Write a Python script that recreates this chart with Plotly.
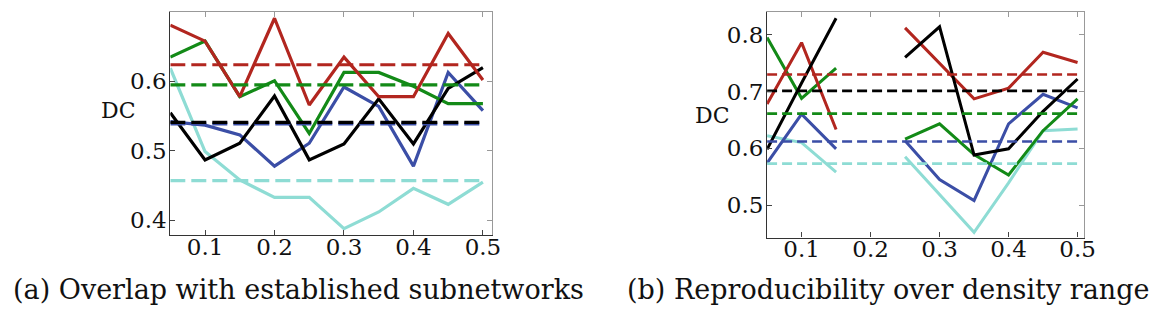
import plotly.graph_objects as go

# ---------------- data ----------------
x_a = [0.05, 0.10, 0.15, 0.20, 0.25, 0.30, 0.35, 0.40, 0.45, 0.50]
a_red   = [0.681, 0.658, 0.578, 0.691, 0.566, 0.635, 0.578, 0.578, 0.669, 0.602]
a_green = [0.635, 0.658, 0.578, 0.601, 0.525, 0.613, 0.613, 0.593, 0.568, 0.568]
a_black = [0.555, 0.487, 0.511, 0.579, 0.487, 0.510, 0.575, 0.510, 0.590, 0.620]
a_blue  = [0.542, 0.537, 0.523, 0.478, 0.511, 0.592, 0.564, 0.478, 0.613, 0.558]
a_cyan  = [0.619, 0.499, 0.458, 0.433, 0.433, 0.388, 0.412, 0.446, 0.423, 0.455]
a_means = {"red": 0.624, "green": 0.595, "black": 0.541, "blue": 0.539, "cyan": 0.457}

x_b = [0.05, 0.10, 0.15, 0.20, 0.25, 0.30, 0.35, 0.40, 0.45, 0.50]
b_red   = [0.678, 0.786, 0.633, None, 0.812, 0.750, 0.687, 0.706, 0.769, 0.751]
b_green = [0.795, 0.688, 0.741, None, 0.616, 0.643, 0.589, 0.553, 0.631, 0.687]
b_black = [0.598, 0.715, 0.829, None, 0.760, 0.814, 0.588, 0.599, 0.665, 0.722]
b_blue  = [0.574, 0.660, 0.599, None, 0.613, 0.545, 0.508, 0.643, 0.695, 0.671]
b_cyan  = [0.622, 0.610, 0.558, None, 0.585, 0.518, 0.452, 0.539, 0.631, 0.634]
b_means = {"red": 0.730, "black": 0.701, "green": 0.661, "blue": 0.612, "cyan": 0.573}

mean_x = [0.05, 0.50]
x_ticks = [0.1, 0.2, 0.3, 0.4, 0.5]
a_yticks = [0.4, 0.5, 0.6]
b_yticks = [0.5, 0.6, 0.7, 0.8]

captions = ["(a) Overlap with established subnetworks",
            "(b) Reproducibility over density range"]
y_label = "DC"

COL = {"red": "#b2261f", "green": "#138a17", "black": "#000000",
       "blue": "#3b4ea6", "cyan": "#8edcd4"}

FONT = "DejaVu Serif"

fig = go.Figure()

def add_panel(xv, series, means, xa, ya, lw, dlw, dash):
    for name, ys in series:
        fig.add_trace(go.Scatter(x=xv, y=ys, mode="lines", xaxis=xa, yaxis=ya,
                                 line=dict(color=COL[name], width=lw),
                                 connectgaps=False, showlegend=False,
                                 hoverinfo="skip"))
    for name in ["cyan", "blue", "green", "black", "red"]:
        fig.add_trace(go.Scatter(x=mean_x, y=[means[name]] * 2, mode="lines",
                                 xaxis=xa, yaxis=ya,
                                 line=dict(color=COL[name], width=dlw, dash=dash),
                                 showlegend=False, hoverinfo="skip"))

add_panel(x_a, [("cyan", a_cyan), ("blue", a_blue), ("green", a_green),
                ("black", a_black), ("red", a_red)],
          a_means, "x", "y", 3.2, 3.2, "15px,6px")
add_panel(x_b, [("cyan", b_cyan), ("blue", b_blue), ("green", b_green),
                ("red", b_red), ("black", b_black)],
          b_means, "x2", "y2", 3.0, 2.6, "10px,5px")

W, H = 1162, 312
domA_x = [164 / W, 489 / W]
domA_y = [1 - 227 / H, 1 - 4 / H]
domB_x = [767 / W, 1087 / W]
domB_y = [1 - 229.5 / H, 1 - 4 / H]

tickfont = dict(family=FONT, size=23, color="#111")
common = dict(showgrid=False, zeroline=False, ticks="inside", ticklen=5,
              tickcolor="#444", showline=True, linecolor="#333", linewidth=1.2,
              tickfont=tickfont, fixedrange=True)
mirror_common = dict(showgrid=False, zeroline=False, ticks="inside", ticklen=5,
                     tickcolor="#999", showline=True, linecolor="#999",
                     linewidth=1.2, showticklabels=False, fixedrange=True)

xrA = [0.05, 0.513]
yrA = [0.3788, 0.700]
xrB = [0.05, 0.509]
yrB = [0.4428, 0.840]

XSO = -9
YSO = -2

fig.update_layout(
    width=W, height=H,
    margin=dict(l=0, r=0, t=0, b=0),
    paper_bgcolor="white", plot_bgcolor="white",
    xaxis=dict(domain=domA_x, range=xrA, anchor="y", tickvals=x_ticks,
               ticktext=[f"{v:.1f}" for v in x_ticks], ticklabelstandoff=XSO, **common),
    yaxis=dict(domain=domA_y, range=yrA, anchor="x", tickvals=a_yticks,
               ticktext=[f"{v:.1f}" for v in a_yticks], ticklabelstandoff=YSO, **common),
    xaxis2=dict(domain=domB_x, range=xrB, anchor="y2", tickvals=x_ticks,
                ticktext=[f"{v:.1f}" for v in x_ticks], ticklabelstandoff=XSO, **common),
    yaxis2=dict(domain=domB_y, range=yrB, anchor="x2", tickvals=b_yticks,
                ticktext=[f"{v:.1f}" for v in b_yticks], ticklabelstandoff=YSO, **common),
    xaxis3=dict(overlaying="x", side="top", range=xrA, anchor="y3", tickvals=x_ticks, **mirror_common),
    yaxis3=dict(overlaying="y", side="right", range=yrA, anchor="x3", tickvals=a_yticks, **mirror_common),
    xaxis4=dict(overlaying="x2", side="top", range=xrB, anchor="y4", tickvals=x_ticks, **mirror_common),
    yaxis4=dict(overlaying="y2", side="right", range=yrB, anchor="x4", tickvals=b_yticks, **mirror_common),
)

# invisible traces to activate mirror axes
fig.add_trace(go.Scatter(x=[None], y=[None], xaxis="x3", yaxis="y3", showlegend=False, hoverinfo="skip"))
fig.add_trace(go.Scatter(x=[None], y=[None], xaxis="x4", yaxis="y4", showlegend=False, hoverinfo="skip"))

# DC labels
fig.add_annotation(text=y_label, xref="paper", yref="paper", x=111 / W, y=1 - 103 / H,
                   showarrow=False, font=dict(family=FONT, size=22, color="#111"),
                   xanchor="center", yanchor="middle")
fig.add_annotation(text=y_label, xref="paper", yref="paper", x=711 / W, y=1 - 107 / H,
                   showarrow=False, font=dict(family=FONT, size=22, color="#111"),
                   xanchor="center", yanchor="middle")

# captions
fig.add_annotation(text=captions[0], xref="paper", yref="paper", x=294 / W, y=1 - 281 / H,
                   showarrow=False, font=dict(family=FONT, size=27, color="#111"),
                   xanchor="center", yanchor="middle")
fig.add_annotation(text=captions[1], xref="paper", yref="paper", x=889 / W, y=1 - 281 / H,
                   showarrow=False, font=dict(family=FONT, size=27, color="#111"),
                   xanchor="center", yanchor="middle")

fig.write_html("out.html")
